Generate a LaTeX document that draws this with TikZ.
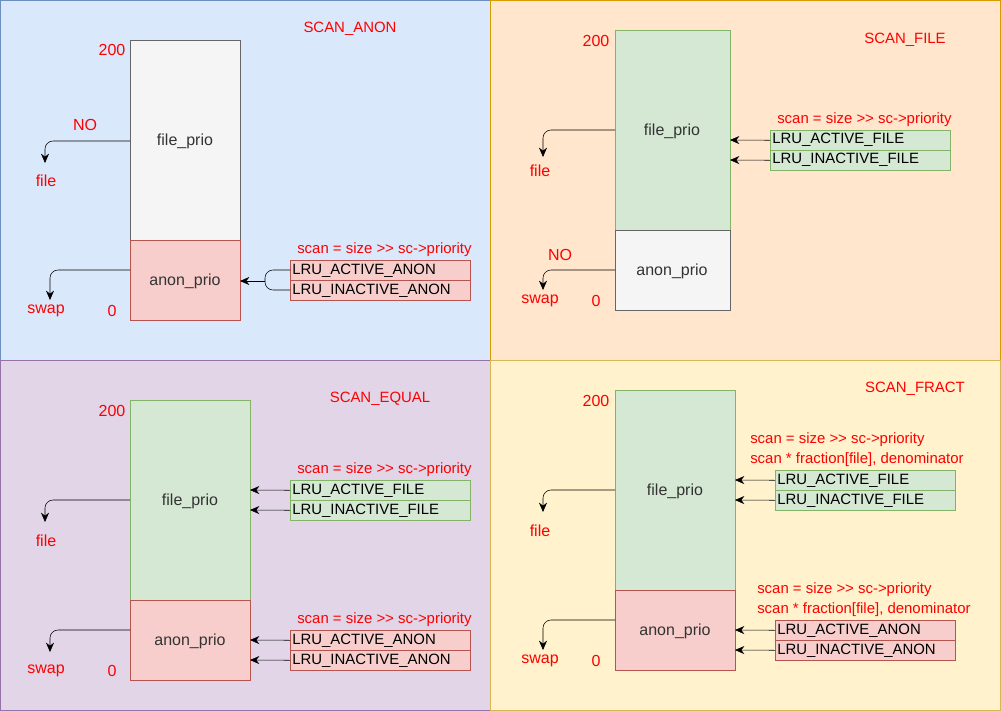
\documentclass[tikz,border=0pt]{standalone}
\usepackage{fontspec}
\setmainfont{Liberation Sans}
\usetikzlibrary{arrows.meta}
\definecolor{pb}{HTML}{DAE8FC}\definecolor{sb}{HTML}{6C8EBF}
\definecolor{po}{HTML}{FFE6CC}\definecolor{so}{HTML}{D79B00}
\definecolor{pp}{HTML}{E1D5E7}\definecolor{sp}{HTML}{9673A6}
\definecolor{py}{HTML}{FFF2CC}\definecolor{sy}{HTML}{D6B656}
\definecolor{gf}{HTML}{D5E8D4}\definecolor{gs}{HTML}{82B366}
\definecolor{rf}{HTML}{F8CECC}\definecolor{rs}{HTML}{B85450}
\definecolor{wf}{HTML}{F5F5F5}\definecolor{ws}{HTML}{666666}
\begin{document}
\begin{tikzpicture}[x=0.75pt,y=-0.75pt,font=\fontsize{11.2}{13}\selectfont,
 lbl/.style={text=red,inner sep=0},
 big/.style={text=red,inner sep=0,font=\fontsize{12}{14}\selectfont},
 bar/.style={font=\fontsize{12}{14}\selectfont,text=black!80},
 arr/.style={-{Stealth[length=7pt,width=6pt]},rounded corners=6pt},
 lru/.style={draw,anchor=north west,minimum width=135pt,minimum height=15pt,inner sep=1.5pt,text width=132pt,align=left}]
\useasboundingbox (0,0) rectangle (1001,711);
\fill[pb,draw=sb] (0.5,0.5) rectangle (490,360);
\fill[po,draw=so] (490,0.5) rectangle (1000.5,360);
\fill[pp,draw=sp] (0.5,360) rectangle (490,710.5);
\fill[py,draw=sy] (490,360) rectangle (1000.5,710.5);
% panel 1
\draw[ws,fill=wf] (130,40) rectangle (240,240); \node[bar] (f1) at (185,141) {file\_prio};
\draw[rs,fill=rf] (130,240) rectangle (240,320); \node[bar] (a1) at (185,281) {anon\_prio};
\node[lbl] at (350,29) {SCAN\_ANON};
\node[big] at (112,50) {200}; \node[big] at (112,311) {0};
\node[big] at (85,125) {NO};
\node[big] (fl1) at (46,181) {file}; \node[big] (sw1) at (46,311) {swap};
\draw[arr] (130,141) -- (45,141) -- (45,163);
\draw[arr] (130,270) -- (50,270) -- (50,300);
\node[lbl,anchor=west] at (297,250) {scan = size >{}> sc->priority};
\node[lru,draw=rs,fill=rf] (la1) at (290,260) {LRU\_ACTIVE\_ANON};
\node[lru,draw=rs,fill=rf] (li1) at (290,280) {LRU\_INACTIVE\_ANON};
\draw[rounded corners=6pt] (290,270) -- (265,270) -- (265,281);
\draw[rounded corners=6pt] (290,290) -- (265,290) -- (265,281);
\draw[arr] (265,281) -- (240,281);
% panel 2
\draw[gs,fill=gf] (615,30) rectangle (730,230); \node[bar] (f2) at (672,131) {file\_prio};
\draw[ws,fill=wf] (615,230) rectangle (730,310); \node[bar] (a2) at (672,271) {anon\_prio};
\node[lbl] at (905,40) {SCAN\_FILE};
\node[big] at (596,41) {200}; \node[big] at (596,301) {0};
\node[big] at (560,255) {NO};
\node[big] (fl2) at (540,171) {file}; \node[big] (sw2) at (540,301) {swap};
\draw[arr] (615,130) -- (543,130) -- (543,157);
\draw[arr] (615,270) -- (543,270) -- (543,290);
\node[lbl,anchor=west] at (777,120) {scan = size >{}> sc->priority};
\node[lru,draw=gs,fill=gf] (la2) at (770,130) {LRU\_ACTIVE\_FILE};
\node[lru,draw=gs,fill=gf] (li2) at (770,150) {LRU\_INACTIVE\_FILE};
\draw[arr] (la2.west) -- (730,140);
\draw[arr] (li2.west) -- (730,160);
% panel 3
\draw[gs,fill=gf] (130,400) rectangle (250,600); \node[bar] (f3) at (190,501) {file\_prio};
\draw[rs,fill=rf] (130,600) rectangle (250,680); \node[bar] (a3) at (190,641) {anon\_prio};
\node[lbl] at (380,399) {SCAN\_EQUAL};
\node[big] at (112,411) {200}; \node[big] at (112,671) {0};
\node[big] (fl3) at (46,541) {file}; \node[big] (sw3) at (46,671) {swap};
\draw[arr] (130,500) -- (45,500) -- (45,522);
\draw[arr] (130,630) -- (50,630) -- (50,652);
\node[lbl,anchor=west] at (297,470) {scan = size >{}> sc->priority};
\node[lru,draw=gs,fill=gf] (la3) at (290,480) {LRU\_ACTIVE\_FILE};
\node[lru,draw=gs,fill=gf] (li3) at (290,500) {LRU\_INACTIVE\_FILE};
\draw[arr] (la3.west) -- (250,490);
\draw[arr] (li3.west) -- (250,510);
\node[lbl,anchor=west] at (297,620) {scan = size >{}> sc->priority};
\node[lru,draw=rs,fill=rf] (lb3) at (290,630) {LRU\_ACTIVE\_ANON};
\node[lru,draw=rs,fill=rf] (lj3) at (290,650) {LRU\_INACTIVE\_ANON};
\draw[arr] (lb3.west) -- (250,640);
\draw[arr] (lj3.west) -- (250,660);
% panel 4
\draw[gs,fill=gf] (615,390) rectangle (735,590); \node[bar] (f4) at (675,491) {file\_prio};
\draw[rs,fill=rf] (615,590) rectangle (735,670); \node[bar] (a4) at (675,631) {anon\_prio};
\node[lbl] at (915,389) {SCAN\_FRACT};
\node[big] at (596,401) {200}; \node[big] at (596,661) {0};
\node[big] (fl4) at (540,531) {file}; \node[big] (sw4) at (540,661) {swap};
\draw[arr] (615,490) -- (543,490) -- (543,512);
\draw[arr] (615,620) -- (543,620) -- (543,650);
\node[lbl,anchor=west] at (750,440) {scan = size >{}> sc->priority};
\node[lbl,anchor=west] at (750,460) {scan * fraction[file], denominator};
\node[lru,draw=gs,fill=gf] (la4) at (775,470) {LRU\_ACTIVE\_FILE};
\node[lru,draw=gs,fill=gf] (li4) at (775,490) {LRU\_INACTIVE\_FILE};
\draw[arr] (la4.west) -- (735,480);
\draw[arr] (li4.west) -- (735,500);
\node[lbl,anchor=west] at (757,590) {scan = size >{}> sc->priority};
\node[lbl,anchor=west] at (757,610) {scan * fraction[file], denominator};
\node[lru,draw=rs,fill=rf] (lb4) at (775,620) {LRU\_ACTIVE\_ANON};
\node[lru,draw=rs,fill=rf] (lj4) at (775,640) {LRU\_INACTIVE\_ANON};
\draw[arr] (lb4.west) -- (735,630);
\draw[arr] (lj4.west) -- (735,650);
\end{tikzpicture}
\end{document}
